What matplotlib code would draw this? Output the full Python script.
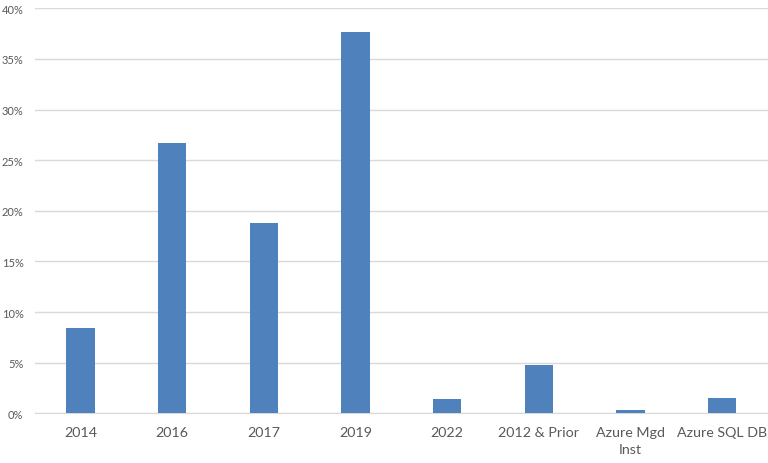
import numpy as np
import matplotlib.pyplot as plt
from matplotlib.ticker import PercentFormatter

categories = ['2014', '2016', '2017', '2019', '2022', '2012 & Prior', 'Azure Mgd\nInst', 'Azure SQL DB']
shares = [8.4, 26.7, 18.8, 37.7, 1.45, 4.8, 0.3, 1.55]
y_ticks = [0, 5, 10, 15, 20, 25, 30, 35, 40]

plt.rcParams['font.family'] = ['Lato', 'DejaVu Sans']

fig = plt.figure(figsize=(7.68, 4.64), dpi=100)
ax = fig.add_axes([0.045, 0.107, 0.955, 0.873])

x = np.arange(len(categories))
ax.bar(x, shares, width=0.31, color='#4f81bd', zorder=3)

ax.set_xlim(-0.5, len(categories) - 0.5)
ax.set_ylim(0, 40)
ax.set_yticks(y_ticks)
ax.yaxis.set_major_formatter(PercentFormatter(decimals=0))
ax.set_xticks(x)
ax.set_xticklabels(categories, fontsize=10.3, color='#595959', linespacing=1.55,
                   multialignment='center')
ax.tick_params(axis='y', labelsize=8, colors='#595959', length=0, pad=8)
ax.tick_params(axis='x', length=0, pad=9)

ax.grid(axis='y', color='#d9d9d9', linewidth=1, zorder=0)
for side in ['top', 'right', 'left']:
    ax.spines[side].set_visible(False)
ax.spines['bottom'].set_color('#d9d9d9')

fig.savefig('out.png', dpi=100)
